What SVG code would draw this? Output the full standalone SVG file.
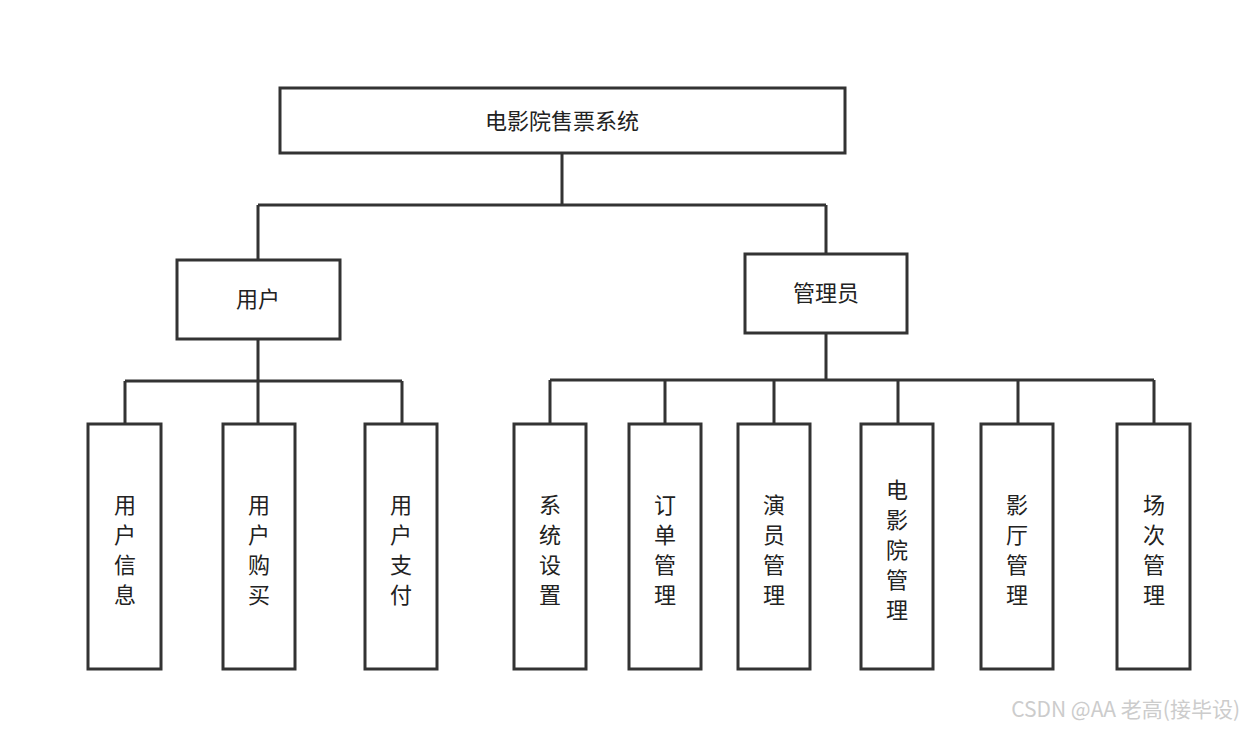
<svg xmlns="http://www.w3.org/2000/svg" width="1247" height="729" viewBox="0 0 1247 729">
<style>
rect{fill:#fff;stroke:#333;stroke-width:3}
text{font-family:"Noto Sans CJK SC","Liberation Sans",sans-serif;font-size:22px;fill:#222;text-anchor:middle}
.c{fill:none;stroke:#333;stroke-width:3}
.w{font-size:21px;fill:#ccc;text-anchor:end}
</style>
<rect x="0" y="0" width="1247" height="729" style="fill:#fff;stroke:none"/>
<g id="connectors">
<path class="c" d="M562 153V205M258 205H826M258 205V260M826 205V254"/>
<path class="c" d="M258 339V381M125 381H402M125 381V424M258 381V424M402 381V424"/>
<path class="c" d="M826 333V380M550 380H1154M550 380V424M665 380V424M774 380V424M898 380V424M1018 380V424M1154 380V424"/>
</g>
<g id="root"><rect x="280" y="88" width="565" height="65"/><text x="562" y="129">电影院售票系统</text></g>
<g id="user"><rect x="177" y="260" width="163" height="79"/><text x="258" y="307">用户</text></g>
<g id="admin"><rect x="745" y="254" width="162" height="79"/><text x="826" y="301">管理员</text></g>
<g id="n1"><rect x="88" y="424" width="73" height="245"/><text x="125"><tspan x="125" y="513">用</tspan><tspan x="125" y="543">户</tspan><tspan x="125" y="573">信</tspan><tspan x="125" y="603">息</tspan></text></g>
<g id="n2"><rect x="223" y="424" width="72" height="245"/><text><tspan x="259" y="513">用</tspan><tspan x="259" y="543">户</tspan><tspan x="259" y="573">购</tspan><tspan x="259" y="603">买</tspan></text></g>
<g id="n3"><rect x="365" y="424" width="72" height="245"/><text><tspan x="401" y="513">用</tspan><tspan x="401" y="543">户</tspan><tspan x="401" y="573">支</tspan><tspan x="401" y="603">付</tspan></text></g>
<g id="n4"><rect x="514" y="424" width="72" height="245"/><text><tspan x="550" y="513">系</tspan><tspan x="550" y="543">统</tspan><tspan x="550" y="573">设</tspan><tspan x="550" y="603">置</tspan></text></g>
<g id="n5"><rect x="629" y="424" width="72" height="245"/><text><tspan x="665" y="513">订</tspan><tspan x="665" y="543">单</tspan><tspan x="665" y="573">管</tspan><tspan x="665" y="603">理</tspan></text></g>
<g id="n6"><rect x="738" y="424" width="72" height="245"/><text><tspan x="774" y="513">演</tspan><tspan x="774" y="543">员</tspan><tspan x="774" y="573">管</tspan><tspan x="774" y="603">理</tspan></text></g>
<g id="n7"><rect x="861" y="424" width="72" height="245"/><text><tspan x="897" y="498">电</tspan><tspan x="897" y="528">影</tspan><tspan x="897" y="558">院</tspan><tspan x="897" y="588">管</tspan><tspan x="897" y="618">理</tspan></text></g>
<g id="n8"><rect x="981" y="424" width="72" height="245"/><text><tspan x="1017" y="513">影</tspan><tspan x="1017" y="543">厅</tspan><tspan x="1017" y="573">管</tspan><tspan x="1017" y="603">理</tspan></text></g>
<g id="n9"><rect x="1117" y="424" width="73" height="245"/><text><tspan x="1154" y="513">场</tspan><tspan x="1154" y="543">次</tspan><tspan x="1154" y="573">管</tspan><tspan x="1154" y="603">理</tspan></text></g>
<text class="w" x="1240" y="717">CSDN @AA 老高(接毕设)</text>
</svg>
